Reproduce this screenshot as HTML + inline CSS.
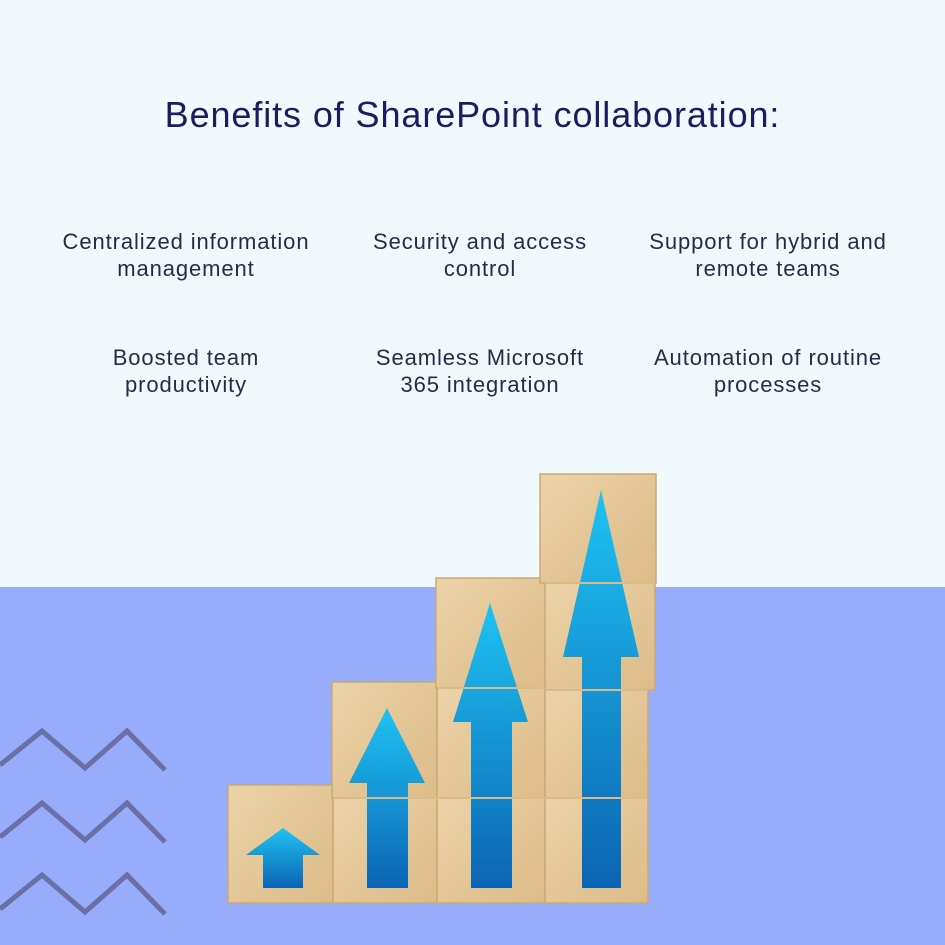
<!DOCTYPE html>
<html><head><meta charset="utf-8"><style>
html,body{margin:0;padding:0}
body{width:945px;height:945px;position:relative;overflow:hidden;background:#f1f9fd;font-family:"Liberation Sans",sans-serif}
.bot{position:absolute;left:0;top:587px;width:945px;height:358px;background:#97adfb}
.title{position:absolute;top:94px;left:0;width:945px;text-align:center;font-size:36px;letter-spacing:0.9px;color:#1e1b5e}
.it{position:absolute;width:340px;text-align:center;font-size:22px;letter-spacing:0.9px;line-height:27px;color:#2a2a48}
</style></head><body>
<div class="bot"></div>
<div class="title">Benefits of SharePoint collaboration:</div>
<div class="it" style="left:16px;top:228px">Centralized information<br>management</div>
<div class="it" style="left:310px;top:228px">Security and access<br>control</div>
<div class="it" style="left:598px;top:228px">Support for hybrid and<br>remote teams</div>
<div class="it" style="left:16px;top:344px">Boosted team<br>productivity</div>
<div class="it" style="left:310px;top:344px">Seamless Microsoft<br>365 integration</div>
<div class="it" style="left:598px;top:344px">Automation of routine<br>processes</div>
<svg width="945" height="945" style="position:absolute;left:0;top:0">
<defs>
<linearGradient id="w" x1="0" y1="0" x2="1" y2="1"><stop offset="0" stop-color="#ecd3a8"/><stop offset="1" stop-color="#dcbb88"/></linearGradient>
<linearGradient id="b" x1="0" y1="0" x2="0" y2="1" gradientUnits="objectBoundingBox"><stop offset="0" stop-color="#1fc3f2"/><stop offset="1" stop-color="#0b64b3"/></linearGradient>
</defs>
<g fill="none" stroke="#6b6fa6" stroke-width="5">
<polyline points="0,765 42,731 85,768 127,731 165,770"/>
<polyline points="0,837 42,803 85,840 127,803 165,842"/>
<polyline points="0,909 42,875 85,912 127,875 165,914"/>
</g>
<g fill="url(#w)" stroke="#c9a977" stroke-width="1.5">
<rect x="228" y="785" width="105" height="118"/>
<rect x="332" y="682" width="105" height="116"/>
<rect x="333" y="798" width="104" height="105"/>
<rect x="436" y="578" width="111" height="110"/>
<rect x="437" y="688" width="108" height="110"/>
<rect x="437" y="798" width="108" height="105"/>
<rect x="540" y="474" width="116" height="109"/>
<rect x="545" y="583" width="110" height="107"/>
<rect x="545" y="690" width="103" height="108"/>
<rect x="545" y="798" width="103" height="105"/>
</g>
<g fill="url(#b)">
<path d="M283,828 L320,855 L303,855 L303,888 L263,888 L263,855 L246,855 Z"/>
<path d="M387,708 L425,783 L408,783 L408,888 L367,888 L367,783 L349,783 Z"/>
<path d="M490,603 L528,722 L512,722 L512,888 L471,888 L471,722 L453,722 Z"/>
<path d="M601,490 L639,657 L621,657 L621,888 L582,888 L582,657 L563,657 Z"/>
</g>
<g stroke="#d9bb8a" stroke-width="2">
<line x1="437" y1="688" x2="545" y2="688"/><line x1="437" y1="798" x2="648" y2="798"/>
<line x1="545" y1="583" x2="655" y2="583"/><line x1="545" y1="690" x2="648" y2="690"/>
<line x1="333" y1="798" x2="437" y2="798"/>
</g>
</svg>
</body></html>
